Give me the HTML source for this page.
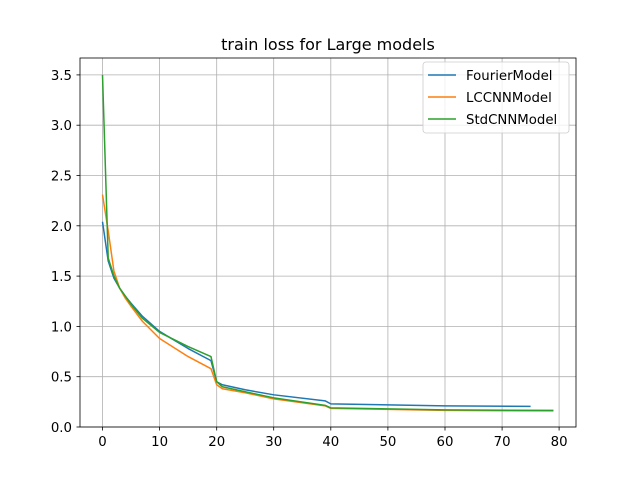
<!DOCTYPE html>
<html><head><meta charset="utf-8"><style>body{margin:0;background:#fff}svg{display:block}text{font-family:"DejaVu Sans","Liberation Sans",sans-serif;fill:#000}</style></head>
<body>
<svg width="640" height="480" viewBox="0 0 640 480" xmlns="http://www.w3.org/2000/svg">
<rect width="640" height="480" fill="#fff"/>
<g stroke="#b0b0b0" stroke-width="0.8">
<line x1="102.5" y1="58" x2="102.5" y2="427"/><line x1="159.6" y1="58" x2="159.6" y2="427"/><line x1="216.7" y1="58" x2="216.7" y2="427"/><line x1="273.7" y1="58" x2="273.7" y2="427"/><line x1="330.8" y1="58" x2="330.8" y2="427"/><line x1="387.9" y1="58" x2="387.9" y2="427"/><line x1="445" y1="58" x2="445" y2="427"/><line x1="502.1" y1="58" x2="502.1" y2="427"/><line x1="559.1" y1="58" x2="559.1" y2="427"/>
<line x1="80" y1="427" x2="576" y2="427"/><line x1="80" y1="376.7" x2="576" y2="376.7"/><line x1="80" y1="326.4" x2="576" y2="326.4"/><line x1="80" y1="276.1" x2="576" y2="276.1"/><line x1="80" y1="225.8" x2="576" y2="225.8"/><line x1="80" y1="175.5" x2="576" y2="175.5"/><line x1="80" y1="125.2" x2="576" y2="125.2"/><line x1="80" y1="74.9" x2="576" y2="74.9"/>
</g>
<g transform="translate(102.5,427) scale(5.708,-100.6)" fill="none" stroke-width="1.5" stroke-linejoin="round">
<polyline vector-effect="non-scaling-stroke" stroke="#1f77b4" points="0,2.04 1,1.65 2,1.48 3,1.38 4,1.30 5,1.23 7,1.10 10,0.95 15,0.78 19,0.66 20,0.45 21,0.42 25,0.37 30,0.32 39,0.26 40,0.23 50,0.22 60,0.21 75,0.205"/>
<polyline vector-effect="non-scaling-stroke" stroke="#ff7f0e" points="0,2.31 1,1.95 2,1.55 3,1.38 4,1.28 5,1.20 7,1.05 10,0.88 15,0.70 19,0.58 20,0.42 21,0.38 25,0.34 30,0.28 39,0.21 40,0.185 50,0.175 60,0.165 79,0.16"/>
<polyline vector-effect="non-scaling-stroke" stroke="#2ca02c" points="0,3.5 1,1.68 2,1.50 3,1.38 4,1.30 5,1.22 7,1.08 10,0.94 15,0.80 19,0.70 20,0.45 21,0.40 25,0.35 30,0.29 39,0.215 40,0.19 50,0.18 60,0.17 79,0.165"/>
</g>
<rect x="80" y="58" width="496" height="369" fill="none" stroke="#000" stroke-width="0.8"/>
<g stroke="#000" stroke-width="0.8">
<line x1="102.5" y1="427" x2="102.5" y2="430.5"/><line x1="159.6" y1="427" x2="159.6" y2="430.5"/><line x1="216.7" y1="427" x2="216.7" y2="430.5"/><line x1="273.7" y1="427" x2="273.7" y2="430.5"/><line x1="330.8" y1="427" x2="330.8" y2="430.5"/><line x1="387.9" y1="427" x2="387.9" y2="430.5"/><line x1="445" y1="427" x2="445" y2="430.5"/><line x1="502.1" y1="427" x2="502.1" y2="430.5"/><line x1="559.1" y1="427" x2="559.1" y2="430.5"/>
<line x1="76.5" y1="427" x2="80" y2="427"/><line x1="76.5" y1="376.7" x2="80" y2="376.7"/><line x1="76.5" y1="326.4" x2="80" y2="326.4"/><line x1="76.5" y1="276.1" x2="80" y2="276.1"/><line x1="76.5" y1="225.8" x2="80" y2="225.8"/><line x1="76.5" y1="175.5" x2="80" y2="175.5"/><line x1="76.5" y1="125.2" x2="80" y2="125.2"/><line x1="76.5" y1="74.9" x2="80" y2="74.9"/>
</g>
<g font-size="13.3" text-anchor="middle">
<text x="102.5" y="446">0</text><text x="159.6" y="446">10</text><text x="216.7" y="446">20</text><text x="273.7" y="446">30</text><text x="330.8" y="446">40</text><text x="387.9" y="446">50</text><text x="445" y="446">60</text><text x="502.1" y="446">70</text><text x="559.1" y="446">80</text>
</g>
<g font-size="13.3" text-anchor="end">
<text x="72" y="432">0.0</text><text x="72" y="381.7">0.5</text><text x="72" y="331.4">1.0</text><text x="72" y="281.1">1.5</text><text x="72" y="230.8">2.0</text><text x="72" y="180.5">2.5</text><text x="72" y="130.2">3.0</text><text x="72" y="79.9">3.5</text>
</g>
<text x="328" y="50" font-size="16" text-anchor="middle">train loss for Large models</text>
<rect x="423" y="62" width="146" height="71" rx="3" fill="#fff" fill-opacity="0.8" stroke="#ccc" stroke-width="0.8"/>
<line x1="428" y1="75" x2="456" y2="75" stroke="#1f77b4" stroke-width="1.5"/>
<line x1="428" y1="97" x2="456" y2="97" stroke="#ff7f0e" stroke-width="1.5"/>
<line x1="428" y1="119" x2="456" y2="119" stroke="#2ca02c" stroke-width="1.5"/>
<g font-size="13.3"><text x="466" y="80">FourierModel</text><text x="466" y="102">LCCNNModel</text><text x="466" y="124">StdCNNModel</text></g>
</svg>
</body></html>
